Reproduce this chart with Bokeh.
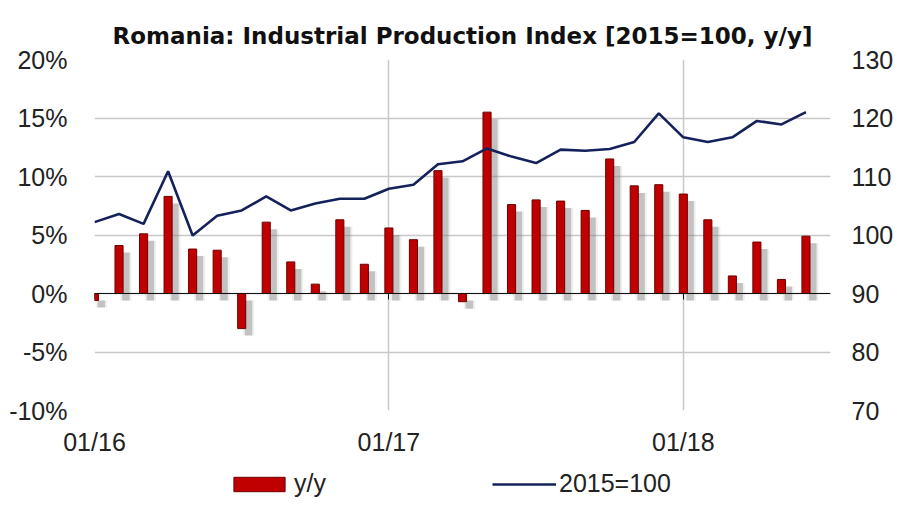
from bokeh.plotting import figure
from bokeh.layouts import column
from bokeh.models import (Range1d, LinearAxis, FixedTicker, PrintfTickFormatter,
                          ColumnDataSource, Legend, LegendItem, Grid)
from bokeh.embed import file_html
from bokeh.resources import INLINE

months = ["01/16", "02/16", "03/16", "04/16", "05/16", "06/16", "07/16", "08/16", "09/16", "10/16", "11/16", "12/16",
          "01/17", "02/17", "03/17", "04/17", "05/17", "06/17", "07/17", "08/17", "09/17", "10/17", "11/17", "12/17",
          "01/18", "02/18", "03/18", "04/18", "05/18", "06/18"]
yoy = [-0.6, 4.1, 5.1, 8.3, 3.8, 3.7, -3.0, 6.1, 2.7, 0.8, 6.3, 2.5,
       5.6, 4.6, 10.5, -0.7, 15.5, 7.6, 8.0, 7.9, 7.1, 11.5, 9.2, 9.3,
       8.5, 6.3, 1.5, 4.4, 1.2, 4.9]
index_2015 = [102.2, 103.6, 101.9, 110.9, 99.9, 103.3, 104.2, 106.6, 104.2, 105.4, 106.2, 106.2,
              107.9, 108.6, 112.1, 112.6, 114.8, 113.4, 112.3, 114.6, 114.4, 114.7, 115.9, 120.8,
              116.7, 115.9, 116.7, 119.5, 118.9, 121.0]
left_ticks = [-10, -5, 0, 5, 10, 15, 20]
right_ticks = [70, 80, 90, 100, 110, 120, 130]

x = list(range(len(months)))
year_ticks = [i for i, m in enumerate(months) if m.startswith("01/")]
year_labels = {i: months[i] for i in year_ticks}

SH_DX, SH_DY = 0.28, 0.6
src = ColumnDataSource(dict(
    x=x, yoy=yoy, idx=index_2015,
    zero=[0] * len(x),
    sx=[v + SH_DX for v in x],
    stop=[max(v, 0) - SH_DY for v in yoy],
    sbot=[min(v, 0) - SH_DY for v in yoy],
))

FONT = "Liberation Sans"
GRID = "#c8c8c8"
TXT = "#222222"
FS = "25px"
BAR_FILL, BAR_LINE = "#c00000", "#6e0000"
LINE_COL = "#14215a"

p = figure(width=900, height=460, output_backend="svg", toolbar_location=None,
           x_range=Range1d(0, 30), y_range=Range1d(-10, 20),
           min_border_left=94, min_border_right=70, min_border_top=59, min_border_bottom=50,
           x_axis_type=None, y_axis_type=None)
p.outline_line_color = None
p.background_fill_color = "white"

p.title.text = "Romania: Industrial Production Index [2015=100, y/y]"
p.title.text_font = "DejaVu Sans"
p.title.text_font_size = "23px"
p.title.text_font_style = "bold"
p.title.align = "center"
p.title.text_color = "#111111"
p.title.standoff = 22

p.extra_y_ranges = {"idx": Range1d(70, 130)}

yl = LinearAxis(ticker=FixedTicker(ticks=left_ticks), formatter=PrintfTickFormatter(format="%d%%"))
yl.axis_line_color = None
yl.major_tick_line_color = None
yl.minor_tick_line_color = None
yl.major_label_text_font = FONT
yl.major_label_text_font_size = FS
yl.major_label_text_color = TXT
yl.major_label_standoff = 21
p.add_layout(yl, "left")

yr = LinearAxis(y_range_name="idx", ticker=FixedTicker(ticks=right_ticks))
yr.axis_line_color = None
yr.major_tick_line_color = None
yr.minor_tick_line_color = None
yr.major_label_text_font = FONT
yr.major_label_text_font_size = FS
yr.major_label_text_color = TXT
yr.major_label_standoff = 15
p.add_layout(yr, "right")

x0 = LinearAxis(ticker=FixedTicker(ticks=year_ticks), fixed_location=0)
x0.axis_line_color = "#111111"
x0.axis_line_width = 1.2
x0.major_tick_line_color = "#111111"
x0.major_tick_out = 6
x0.major_tick_in = 0
x0.minor_tick_line_color = None
x0.major_label_text_alpha = 0
x0.major_label_text_font_size = "1px"
p.add_layout(x0, "below")

xb = LinearAxis(ticker=FixedTicker(ticks=year_ticks), major_label_overrides=year_labels)
xb.axis_line_color = None
xb.major_tick_line_color = None
xb.minor_tick_line_color = None
xb.major_label_text_font = FONT
xb.major_label_text_font_size = FS
xb.major_label_text_color = TXT
xb.major_label_standoff = 11
p.add_layout(xb, "below")

p.add_layout(Grid(dimension=1, ticker=FixedTicker(ticks=left_ticks), grid_line_color=GRID, grid_line_width=1.5))
p.add_layout(Grid(dimension=0, ticker=FixedTicker(ticks=year_ticks), grid_line_color=GRID, grid_line_width=1.5))

p.vbar(x="sx", top="stop", bottom="sbot", width=0.46, source=src, fill_color="#9a9a9a", fill_alpha=0.16, line_color=None)
p.vbar(x="sx", top="stop", bottom="sbot", width=0.30, source=src, fill_color="#707070", fill_alpha=0.35, line_color=None)

p.vbar(x="x", top="yoy", bottom="zero", width=0.33, source=src,
       fill_color=BAR_FILL, line_color=BAR_LINE, line_width=1)
p.line(x="x", y="idx", y_range_name="idx", source=src, line_color=LINE_COL, line_width=2.6)

# legend strip (separate figure so the legend is not clipped by the frame)
lg = figure(width=900, height=50, output_backend="svg", toolbar_location=None,
            x_range=Range1d(1000, 1001), y_range=Range1d(1000, 1001),
            min_border=0, x_axis_type=None, y_axis_type=None)
lg.outline_line_color = None
lg.grid.visible = False
lbar = lg.vbar(x="x", top="yoy", bottom="zero", width=0.33, source=src,
               fill_color=BAR_FILL, line_color=BAR_LINE, line_width=1)
lline = lg.line(x="x", y="idx", source=src, line_color=LINE_COL, line_width=2.6)
legend = Legend(items=[LegendItem(label="y/y", renderers=[lbar]),
                       LegendItem(label="2015=100", renderers=[lline])],
                orientation="horizontal", location=(133, 12),
                glyph_width=64, glyph_height=18, label_standoff=3, spacing=63, label_width=135,
                padding=0, margin=0, border_line_color=None, background_fill_alpha=0,
                label_text_font=FONT, label_text_font_size=FS, label_text_color=TXT)
lg.add_layout(legend)

open("out.html", "w").write(file_html(column(p, lg, spacing=0), INLINE))
